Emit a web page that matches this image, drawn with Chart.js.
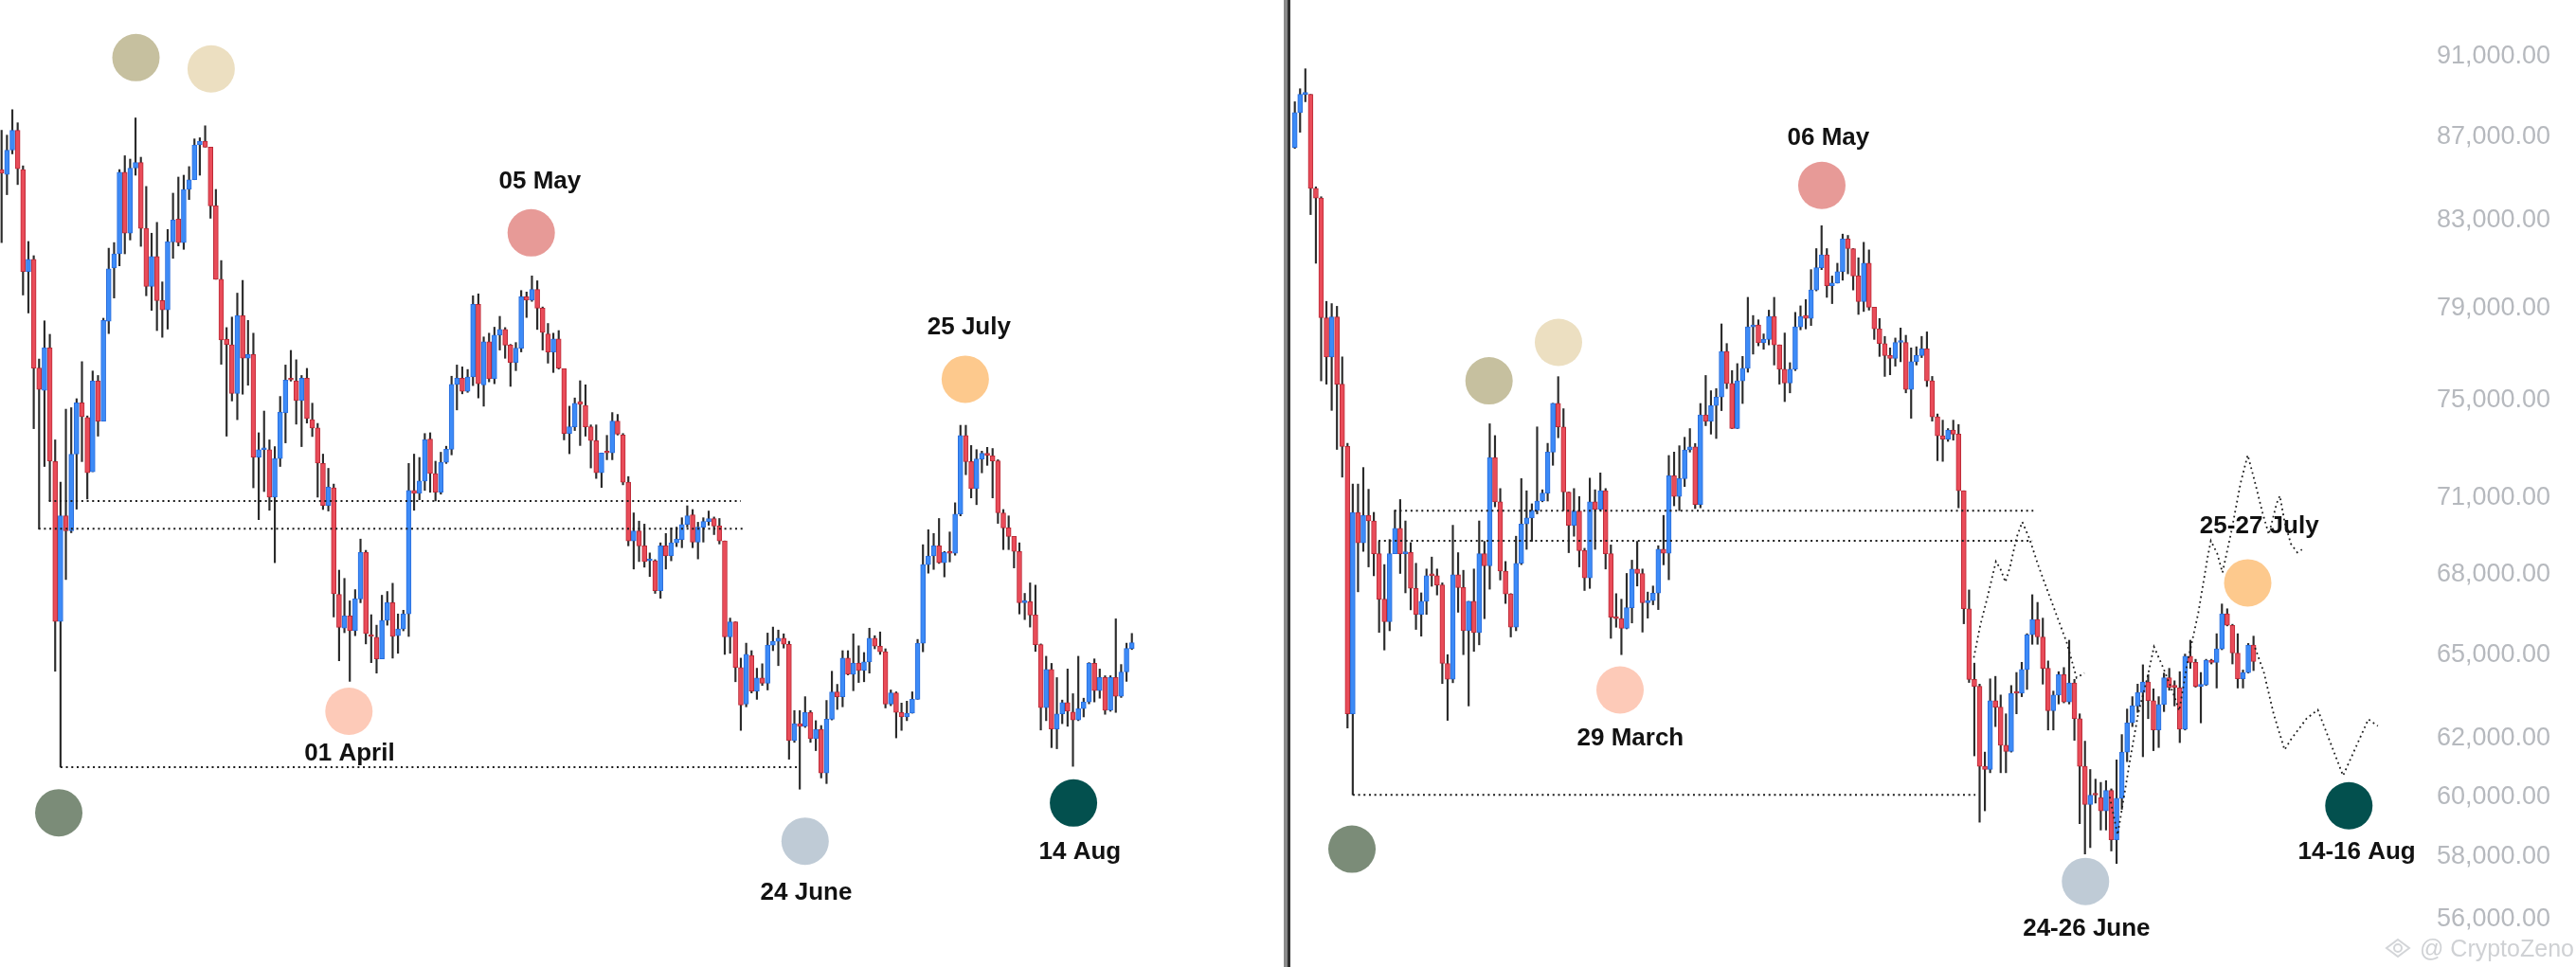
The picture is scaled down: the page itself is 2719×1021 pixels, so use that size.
<!DOCTYPE html>
<html>
<head>
<meta charset="utf-8">
<title>Fractal comparison</title>
<script src="https://cdn.jsdelivr.net/npm/chart.js@4.4.1/dist/chart.umd.min.js"></script>
<style>
  html, body { margin: 0; padding: 0; background: #fff; }
  #wrap { position: relative; width: 2719px; height: 1021px; overflow: hidden; background: #fff; }
  #paneL { position: absolute; left: 0; top: 0; width: 1355px; height: 1021px; }
  #paneR { position: absolute; left: 1362px; top: 0; width: 1357px; height: 1021px; }
  #sepA { position: absolute; left: 1355px; top: 0; width: 4px; height: 1021px; background: #8b8b8b; }
  #sepB { position: absolute; left: 1359px; top: 0; width: 3px; height: 1021px; background: #2f2f2f; }
  #wm { position: absolute; left: 2516px; top: 984px; height: 34px; display: flex; align-items: center;
        font: 25px "Liberation Sans", Arial, sans-serif; color: #cfd1d4; white-space: nowrap; }
  #wm svg { margin-right: 8px; }
</style>
</head>
<body>
<div id="wrap">
  <div id="paneL"><canvas id="chartL" width="1355" height="1021"></canvas></div>
  <div id="sepA"></div>
  <div id="sepB"></div>
  <div id="paneR"><canvas id="chartR" width="1357" height="1021"></canvas></div>
  <div id="wm">
    <svg width="30" height="22" viewBox="0 0 30 22"><path d="M15 2 L27 11 L15 20 L3 11 Z" fill="none" stroke="#d3d5d8" stroke-width="2"/><circle cx="15" cy="11" r="4" fill="none" stroke="#d3d5d8" stroke-width="2"/></svg>
    <span>@ CryptoZeno</span>
  </div>
</div>
<script>
// ---- left pane (earlier cycle, no price axis: index points) ----
var leftOpen = [
  2547,2534,2599,2652,2547,2275,2307,2017,1957,2071,
  1767,1340,1622,1582,1787,1924,1885,1740,1982,1875,
  2142,2284,2322,2540,2377,2551,2566,2390,2235,2315,
  2197,2172,2354,2415,2352,2494,2520,2613,2623,2607,
  2450,2254,2094,2079,1949,2157,2043,2053,1779,1799,
  1799,1672,1775,1897,1990,1982,1930,1990,1879,1857,
  1762,1650,1697,1412,1322,1355,1315,1400,1525,1305,
  1298,1240,1343,1390,1302,1320,1360,1690,1682,1715,
  1827,1735,1685,1765,1800,1973,1990,1955,1993,2187,
  1972,2087,1988,2105,2120,2078,2032,2070,2207,2198,
  2227,2177,2108,2060,2095,2015,1842,1860,1927,1917,
  1860,1823,1737,1792,1790,1875,1838,1712,1555,1582,
  1542,1502,1502,1422,1542,1515,1550,1559,1599,1625,
  1552,1592,1607,1615,1595,1555,1299,1339,1217,1119,
  1249,1154,1189,1175,1277,1287,1295,1279,1022,1067,
  1060,1097,1027,1052,935,1079,1152,1139,1242,1199,
  1229,1209,1232,1295,1274,1259,1119,1149,1097,1085,
  1095,1132,1282,1492,1515,1542,1497,1524,1522,1627,
  1837,1767,1695,1774,1789,1782,1769,1630,1590,1567,
  1527,1390,1393,1357,1278,1110,1212,1053,1093,1123,
  1098,1077,1107,1125,1228,1155,1190,1103,1190,1140,
  1205,1268
];
var leftHigh = [
  2652,2639,2707,2672,2557,2355,2317,2041,2143,2107,
  1825,1712,1907,1911,1935,2034,1889,2009,1997,2150,
  2337,2352,2547,2584,2575,2685,2580,2502,2377,2406,
  2247,2387,2484,2527,2532,2555,2629,2632,2664,2607,
  2494,2304,2125,2153,2217,2251,2144,2110,1844,1902,
  1825,1807,1941,2025,2064,2039,1997,2016,1923,1869,
  1787,1749,1707,1477,1455,1395,1425,1560,1530,1358,
  1330,1410,1420,1442,1360,1370,1762,1787,1778,1842,
  1844,1768,1792,1808,1995,2025,2020,2013,2210,2215,
  2100,2110,2126,2155,2125,2080,2085,2224,2220,2263,
  2250,2180,2136,2110,2117,2015,1915,1937,1983,1972,
  1865,1865,1790,1837,1898,1893,1842,1727,1630,1608,
  1600,1523,1505,1550,1575,1590,1592,1617,1649,1639,
  1605,1617,1635,1619,1615,1555,1349,1339,1242,1282,
  1262,1215,1227,1309,1325,1317,1307,1287,1102,1102,
  1139,1102,1075,1062,1129,1207,1172,1262,1262,1307,
  1275,1257,1322,1302,1312,1267,1157,1152,1122,1127,
  1152,1292,1545,1585,1575,1615,1527,1579,1657,1864,
  1864,1810,1799,1795,1805,1802,1772,1639,1622,1567,
  1550,1415,1443,1437,1280,1247,1228,1190,1130,1213,
  1147,1247,1135,1230,1240,1213,1195,1195,1347,1225,
  1282,1308
];
var leftLow = [
  2352,2480,2589,2507,2212,2164,1855,1587,1754,1662,
  1207,951,1452,1577,1640,1767,1667,1740,1835,1875,
  2109,2204,2290,2322,2359,2532,2342,2210,2171,2117,
  2099,2121,2310,2343,2334,2467,2520,2532,2607,2417,
  2254,2027,1835,1929,1879,1947,1971,1697,1612,1687,
  1637,1497,1754,1817,1982,1867,1807,1870,1834,1672,
  1639,1635,1352,1235,1310,1180,1302,1390,1280,1230,
  1202,1240,1330,1242,1255,1315,1300,1637,1665,1690,
  1685,1662,1680,1762,1785,1905,1948,1952,1970,1937,
  1915,1980,1975,2065,2043,1968,2010,2060,2152,2195,
  2120,2065,2030,2005,2014,1825,1788,1850,1810,1835,
  1750,1722,1698,1772,1772,1838,1705,1542,1480,1500,
  1485,1460,1415,1402,1480,1502,1540,1537,1592,1537,
  1507,1552,1597,1572,1547,1252,1255,1179,1049,1112,
  1149,1132,1169,1157,1262,1222,1269,972,1017,892,
  1057,1017,995,922,907,1077,1105,1112,1197,1155,
  1177,1179,1202,1267,1252,1109,1115,1029,1049,1075,
  1095,1132,1259,1469,1479,1495,1459,1499,1517,1622,
  1732,1670,1652,1737,1757,1670,1602,1532,1532,1483,
  1360,1345,1325,1260,1050,1075,1003,1000,1067,1060,
  953,1075,1085,1120,1125,1135,1092,1100,1097,1137,
  1180,1265
];
var leftClose = [
  2537,2599,2652,2549,2275,2307,2017,1960,2071,1769,
  1340,1622,1582,1787,1924,1887,1737,1982,1875,2144,
  2282,2322,2540,2377,2551,2566,2390,2235,2315,2197,
  2172,2354,2412,2352,2494,2520,2613,2623,2607,2450,
  2254,2092,2080,1949,2157,2043,2053,1779,1799,1801,
  1672,1775,1899,1985,1985,1930,1990,1882,1857,1763,
  1650,1699,1414,1324,1355,1315,1400,1525,1308,1300,
  1240,1343,1390,1300,1320,1360,1690,1682,1715,1825,
  1735,1685,1765,1800,1973,1990,1955,1993,2187,1975,
  2087,1988,2105,2120,2078,2032,2070,2207,2198,2227,
  2177,2112,2060,2095,2017,1842,1860,1923,1920,1860,
  1823,1737,1790,1790,1875,1840,1712,1555,1582,1542,
  1500,1505,1422,1542,1515,1550,1560,1599,1622,1552,
  1592,1607,1615,1595,1555,1299,1339,1217,1117,1252,
  1154,1189,1175,1277,1287,1295,1279,1022,1067,1060,
  1097,1027,1052,935,1079,1152,1139,1242,1199,1229,
  1209,1232,1295,1274,1259,1119,1149,1097,1085,1095,
  1132,1282,1492,1515,1542,1497,1524,1522,1627,1837,
  1767,1695,1774,1789,1784,1769,1630,1590,1567,1527,
  1390,1393,1357,1278,1110,1212,1053,1093,1123,1100,
  1077,1107,1125,1228,1155,1190,1103,1190,1140,1205,
  1268,1283
];
var leftLevels = [1662, 1588, 951];
var leftLevelFrom = [9.84, 7.9, 12];
var leftLevelTo = [139.0, 139.9, 149.6];
var leftMarkX = [11.67, 26.08, 40.12, 99.87, 65.84, 180.9, 151.0, 201.1];
var leftMarkY = [829, 2846, 2816, 2378, 1100, 1987, 753, 855];
var leftMarkColors = ['#7b8c78', '#c6c09f', '#ecdfc1', '#e79a97', '#fdcab8', '#fdc98d', '#bfcbd6', '#03504e'];
var leftLabels = ['05 May', '01 April', '25 July', '24 June', '14 Aug'];
var leftLabelX = [101.5, 65.96, 181.6, 151.2, 202.3];
var leftLabelY = [2515, 986, 2125, 614, 723];

// ---- right pane (current cycle, USD) ----
var rightOpen = [
  86480,88190,89100,89100,84510,84050,78570,76860,78610,75690,
  73080,62870,70420,69220,70300,70080,68800,67060,66220,68800,
  69790,68800,68850,67470,66490,66980,67990,67950,67600,64680,
  64110,67990,67500,65880,66980,65810,68800,68330,72630,70840,
  68130,67260,66010,68430,69960,70200,70500,70870,71190,72850,
  74880,73890,71230,69910,70470,68920,67870,70840,70530,71280,
  68800,66380,66330,65970,66740,68210,68040,66930,67010,67290,
  68980,68820,71890,71050,71770,72940,73060,70730,74390,74130,
  74780,75140,77100,75720,73820,75830,76370,78170,78260,77470,
  77620,78630,77380,76330,75740,76330,78170,78670,78540,79810,
  80820,81400,80000,80120,80640,82130,81690,80440,79290,81020,
  79040,78080,77440,76920,76790,77490,77490,75470,76650,76920,
  77210,75830,74310,73520,73380,73760,73590,71280,66700,64100,
  63850,61040,60930,63340,63110,61770,61550,63630,63600,64460,
  65730,66300,65650,64500,62980,63540,64270,63290,63970,62700,
  61040,59740,60090,59980,59530,60220,58570,59950,61530,62550,
  63150,63630,64010,63340,62300,63200,64160,63850,63790,62330,
  64940,64720,63850,63900,64800,64720,65210,66510,66080,65060,
  64120,64350,65350
];
var rightHigh = [
  88730,89380,90390,89100,84580,84110,79300,79200,79080,76860,
  73210,71550,71550,72220,71340,70420,69280,68380,69350,70500,
  70930,70080,69230,68430,67300,68210,68670,68210,67680,65000,
  69910,68840,68160,66980,68210,70080,69280,74020,73530,71370,
  68500,67270,69480,71770,71280,70760,73890,71320,73210,74880,
  76010,74650,71230,71370,71050,69010,71790,71320,72000,71370,
  69140,67270,67060,68040,68550,69280,68210,67330,67560,69110,
  70300,72710,72850,73110,73460,73820,73200,74870,76060,75410,
  75500,78300,77440,76270,76570,76880,79480,78670,78480,77860,
  78910,79480,77380,77900,76610,78810,79100,79380,80730,81690,
  82750,81690,80440,81020,82360,82300,81690,81270,81980,81630,
  79040,78540,77750,77250,77680,78120,77800,77250,77300,77750,
  77950,76020,74430,74170,73820,74170,73990,71280,67410,64690,
  63930,61530,64120,64210,63540,62870,63880,64350,64720,65770,
  67230,66940,66350,64770,63680,64380,64530,65530,64100,62870,
  61910,60930,60600,60490,60550,60270,61260,62140,63040,63480,
  63930,64630,64270,63760,63480,64330,64500,64050,64380,65020,
  65530,64830,64350,64830,64830,65770,66880,66700,66120,65770,
  64440,65410,65680
];
var rightLow = [
  86430,87220,88730,83270,81020,75830,75690,74580,72960,71830,
  62370,60070,67340,68890,68290,67950,65820,65170,65880,68800,
  68040,67300,66660,65930,65680,66490,67550,67220,63950,62640,
  63980,66570,65000,63150,65120,65360,66330,67440,70640,67790,
  66900,65650,65880,68380,68970,69280,70360,70840,70870,72310,
  73440,70500,68840,69480,68290,67390,67470,68970,70500,68210,
  65600,66010,65000,65950,66170,67560,65830,66350,66850,66670,
  68370,67800,70680,70490,71450,72850,70570,70600,73940,73590,
  73410,74570,75500,73820,73820,74870,76200,76980,77340,77190,
  77380,76510,75690,74950,75320,76270,78040,78080,78230,79770,
  80730,79480,79200,80120,80250,80540,79810,78720,78850,78910,
  77620,76880,76020,76090,76460,76650,75320,74250,76510,76830,
  75590,74130,72500,72470,73290,73340,70600,66140,63990,61400,
  59150,59530,60820,62420,60820,60820,61530,62870,63480,63740,
  65380,65380,63930,62300,62300,63220,63260,63220,61940,59100,
  58100,58310,59790,58890,58890,58200,57790,59580,61200,62420,
  62920,61370,62700,61580,61690,62950,63710,63150,61860,62300,
  64500,63820,62550,63880,64660,63790,65180,66060,64660,63790,
  63790,64330,64420
];
var rightClose = [
  88190,89100,89120,84510,84050,78570,76860,78610,75690,73080,
  62870,70420,69220,70300,70080,68800,67060,66220,68800,69790,
  68800,68850,67470,66490,66980,67950,67950,67600,64680,64110,
  67990,67500,65880,66980,65810,68800,68330,72630,70840,68130,
  67260,66010,68430,69960,70200,70500,70870,71190,72850,74880,
  73890,71230,69910,70470,68920,67870,70840,70530,71280,68800,
  66380,66330,65970,66740,68210,68040,66930,67010,67290,68980,
  68820,71890,71050,71770,72940,73060,70730,74390,74130,74780,
  75140,77100,75720,73820,75830,76370,78170,78260,77470,77620,
  78630,77380,76330,75740,76330,78170,78630,78540,79810,80820,
  81400,80000,80120,80640,82130,81690,80440,79290,81020,79040,
  78080,77440,76920,76790,77490,77530,75470,76650,76920,77210,
  75830,74310,73520,73380,73760,73590,71280,66700,64100,63850,
  61040,60930,63340,63110,61770,61550,63600,63600,64460,65730,
  66300,65650,64500,62980,63540,64270,63290,63970,62700,61040,
  59740,60060,60060,59530,60220,58570,59950,61530,62550,63150,
  63630,64010,63340,62300,63200,64160,63820,63820,62330,64940,
  64720,63850,63900,64800,64720,65210,66510,66080,65060,64120,
  64350,65350,64750
];
var rightTicks = [91000, 87000, 83000, 79000, 75000, 71000, 68000, 65000, 62000, 60000, 58000, 56000];
var rightLevels = [70480, 69300, 60070];
var rightLevelFrom = [19.9, 16.9, 12];
var rightLevelTo = [141.2, 141.0, 130.2];
// projected path copied from the earlier cycle (three dotted pieces)
var projAX = [129.9, 131.1, 132.6, 134.1, 135.0, 135.9, 136.8, 138.0, 139.1, 140.4, 142.2, 144.6, 147.6, 149.4, 150.9];
var projAY = [64890, 66060, 67230, 68500, 68190, 67710, 68310, 69420, 70040, 69420, 68310, 67000, 65410, 64160, 64330];
var projBX = [155.7, 157.2, 158.1, 159.6, 161.1, 162.9, 164.1, 165.9, 168.0, 168.9, 170.4, 172.5, 174.3, 174.9,
              176.1, 177.1, 178.8, 180.5, 181.9, 183.2, 184.7, 185.9, 187.4, 188.0, 188.9, 190.1, 191.3, 192.2];
var projBY = [60000, 58730, 59680, 61310, 62870, 64210, 65290, 64500, 63480, 62980, 64660, 66530, 68680, 69300,
              68810, 68070, 69670, 71550, 72730, 71680, 70410, 69550, 70780, 71080, 70040, 69180, 68850, 68960];
var projCX = [183.3, 185.0, 186.8, 188.9, 190.1, 193.1, 195.2, 200.0, 204.8, 206.6];
var projCY = [65250, 64330, 62880, 61610, 61970, 62710, 63010, 60720, 62680, 62440];
var rightMarkX = [11.85, 37.87, 51.05, 62.74, 101.05, 151.1, 181.9, 201.1];
var rightMarkY = [58260, 75830, 77490, 63720, 84650, 57210, 67680, 59700];
var rightMarkColors = ['#7b8c78', '#c6c09f', '#ecdfc1', '#fdcab8', '#e79a97', '#bfcbd6', '#fdc98d', '#03504e'];
var rightLabels = ['29 March', '06 May', '24-26 June', '25-27 July', '14-16 Aug'];
var rightLabelX = [64.7, 102.3, 151.3, 184.1, 202.6];
var rightLabelY = [62000, 86950, 55710, 69850, 58160];

(function () {
  var UP_FILL = '#3d8bf7', UP_EDGE = '#2a6ddc';
  var DN_FILL = '#e94c59', DN_EDGE = '#bb2a37';
  var WICK = '#2b2b2b';
  var DOT = '#1c1c1c';
  var FONT = '"Liberation Sans", Arial, sans-serif';

  function candleSets(open, high, low, close) {
    var wicks = [], bodies = [], fills = [], edges = [];
    for (var i = 0; i < open.length; i++) {
      var up = close[i] >= open[i];
      wicks.push({ x: i + 1, y: [low[i], high[i]] });
      bodies.push({ x: i + 1, y: [open[i], close[i]] });
      fills.push(up ? UP_FILL : DN_FILL);
      edges.push(up ? UP_EDGE : DN_EDGE);
    }
    return [
      { type: 'bar', data: wicks, backgroundColor: WICK, barThickness: 1.5, grouped: false, order: 3 },
      { type: 'bar', data: bodies, backgroundColor: fills, borderColor: edges, borderWidth: 1,
        borderSkipped: false, barThickness: 5, minBarLength: 2, grouped: false, order: 2 }
    ];
  }

  function levelSets(levels, from, to) {
    return levels.map(function (v, i) {
      return { type: 'line', data: [{ x: from[i], y: v }, { x: to[i], y: v }], borderColor: DOT,
               borderWidth: 2, borderDash: [2, 3.7], pointRadius: 0, order: 1 };
    });
  }

  function pathSet(xs, ys) {
    return { type: 'line', data: xs.map(function (x, i) { return { x: x, y: ys[i] }; }),
             borderColor: DOT, borderWidth: 1.8, borderDash: [1.8, 3.6], pointRadius: 0,
             tension: 0, order: 1 };
  }

  function markerSet(xs, ys, colors) {
    return { type: 'line', showLine: false, clip: false,
             data: xs.map(function (x, i) { return { x: x, y: ys[i] }; }),
             pointRadius: 25, pointHoverRadius: 25, pointBorderWidth: 0,
             pointBackgroundColor: colors, order: 0 };
  }

  function labelPlugin(texts, xs, ys) {
    return {
      id: 'dateLabels',
      afterDatasetsDraw: function (chart) {
        var c = chart.ctx, sx = chart.scales.x, sy = chart.scales.y;
        c.save();
        c.font = 'bold 26px ' + FONT;
        c.fillStyle = '#121212';
        c.textAlign = 'center';
        c.textBaseline = 'middle';
        texts.forEach(function (t, i) {
          c.fillText(t, sx.getPixelForValue(xs[i]), sy.getPixelForValue(ys[i]));
        });
        c.restore();
      }
    };
  }

  var common = {
    responsive: false,
    animation: false,
    events: [],
    layout: { padding: 0, autoPadding: false },
    plugins: { legend: { display: false }, tooltip: { enabled: false } }
  };

  new Chart(document.getElementById('chartL'), {
    type: 'bar',
    data: {
      datasets: candleSets(leftOpen, leftHigh, leftLow, leftClose)
        .concat(levelSets(leftLevels, leftLevelFrom, leftLevelTo))
        .concat([markerSet(leftMarkX, leftMarkY, leftMarkColors)])
    },
    options: Object.assign({}, common, {
      scales: {
        x: { type: 'linear', min: 0.70, max: 240.35, offset: false, display: false },
        y: { type: 'linear', min: 417, max: 3000, display: false }
      }
    }),
    plugins: [labelPlugin(leftLabels, leftLabelX, leftLabelY)]
  });

  new Chart(document.getElementById('chartR'), {
    type: 'bar',
    data: {
      datasets: candleSets(rightOpen, rightHigh, rightLow, rightClose)
        .concat(levelSets(rightLevels, rightLevelFrom, rightLevelTo))
        .concat([pathSet(projAX, projAY), pathSet(projBX, projBY), pathSet(projCX, projCY)])
        .concat([markerSet(rightMarkX, rightMarkY, rightMarkColors)])
    },
    options: Object.assign({}, common, {
      scales: {
        x: { type: 'linear', min: 0.155, max: 215.62, offset: false, display: false },
        y: {
          type: 'logarithmic',
          position: 'right',
          min: 54520,
          max: 93960,
          grid: { display: false, drawTicks: false },
          border: { display: false },
          ticks: {
            autoSkip: false,
            padding: 12,
            color: '#b6b9be',
            font: { size: 27, family: FONT },
            callback: function (v) {
              return Number(v).toLocaleString('en-US', { minimumFractionDigits: 2, maximumFractionDigits: 2 });
            }
          },
          afterBuildTicks: function (scale) {
            scale.ticks = rightTicks.map(function (v) { return { value: v }; });
          },
          afterFit: function (scale) {
            scale.width = 159;
            scale.paddingTop = 0;
            scale.paddingBottom = 0;
          }
        }
      }
    }),
    plugins: [labelPlugin(rightLabels, rightLabelX, rightLabelY)]
  });
})();
</script>
</body>
</html>
